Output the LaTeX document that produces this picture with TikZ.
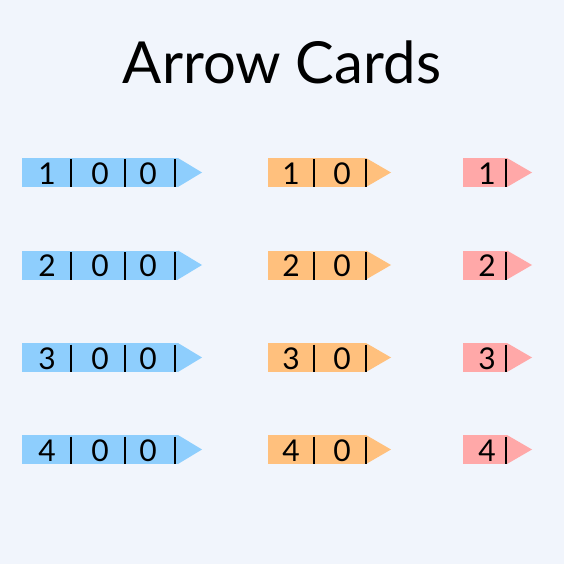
\documentclass[tikz,border=0pt]{standalone}
\usepackage{fontspec}
\setmainfont{Lato}
\definecolor{bg}{HTML}{F1F5FC}
\definecolor{cblue}{HTML}{8ECEFD}
\definecolor{corange}{HTML}{FFC07D}
\definecolor{cred}{HTML}{FFA8A8}
\tikzset{
  digit/.style={font=\fontsize{30}{30}\selectfont, inner sep=0pt, anchor=center},
  bar/.style={line width=2pt, black},
}
% #1 colour, #2 y centre, #3 x left, #4 x rect right, #5 x tip
\newcommand{\cardbody}[5]{%
  \fill[#1] (#3,#2-14.5) rectangle (#4,#2+14.5);
  \fill[#1] (#4,#2-14.5) -- (#5,#2) -- (#4,#2+14.5) -- cycle;
}
\begin{document}
\begin{tikzpicture}[x=1pt,y=-1pt]
\fill[bg] (0,0) rectangle (564,564);
\useasboundingbox (0,0) rectangle (564,564);
\node[font=\fontsize{58}{58}\selectfont, inner sep=0pt] (title) at (282,62) {Arrow Cards};
\foreach \n/\y in {1/172.5,2/265,3/357.5,4/449.5}{
  % blue
  \cardbody{cblue}{\y}{22}{178}{202}
  \node[digit] (b\n a) at (47,\y+1) {\n};
  \node[digit] (b\n b) at (100,\y+1) {0};
  \node[digit] (b\n c) at (148,\y+1) {0};
  \draw[bar] (71,\y-13) -- (71,\y+14.5);
  \draw[bar] (125,\y-13) -- (125,\y+14.5);
  \draw[bar] (175,\y-13) -- (175,\y+14.5);
  % orange
  \cardbody{corange}{\y}{268}{366}{391}
  \node[digit] (o\n a) at (291,\y+1) {\n};
  \node[digit] (o\n b) at (342,\y+1) {0};
  \draw[bar] (314,\y-13) -- (314,\y+14.5);
  \draw[bar] (366,\y-13) -- (366,\y+14.5);
  % red
  \cardbody{cred}{\y}{463}{507}{532}
  \node[digit] (r\n a) at (487,\y+1) {\n};
  \draw[bar] (506,\y-13) -- (506,\y+14.5);
}
\end{tikzpicture}
\end{document}
